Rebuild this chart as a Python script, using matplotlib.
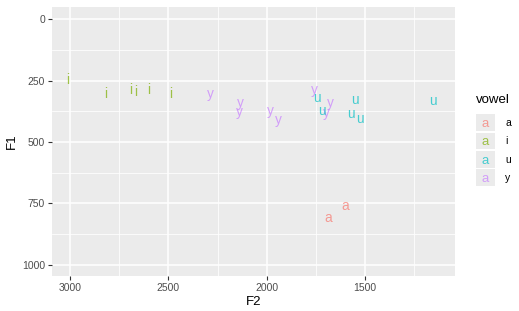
import matplotlib.pyplot as plt
from matplotlib.legend_handler import HandlerBase
from matplotlib.lines import Line2D
from matplotlib.patches import Rectangle
from matplotlib.text import Text

plt.rcParams['font.family'] = ['Liberation Sans', 'DejaVu Sans']

# vowel formant readings (F2, F1)
vowels = ['a', 'i', 'u', 'y']
colors = {'a': '#F8766D', 'i': '#7CAE00', 'u': '#00BFC4', 'y': '#C77CFF'}

i_f2 = [3010, 2818, 2691, 2669, 2600, 2488]
i_f1 = [246, 305, 289, 298, 288, 303]
y_f2 = [2288, 2132, 2139, 1979, 1942, 1758, 1678, 1695]
y_f1 = [305, 342, 379, 373, 410, 287, 342, 383]
u_f2 = [1746, 1720, 1551, 1571, 1525, 1156]
u_f1 = [320, 374, 329, 388, 408, 333]
a_f2 = [1602, 1687]
a_f1 = [759, 809]

data = {'i': (i_f2, i_f1), 'y': (y_f2, y_f1), 'u': (u_f2, u_f1), 'a': (a_f2, a_f1)}


class TextKey(HandlerBase):
    # ggplot-style key: grey square with a coloured "a"
    def create_artists(self, legend, orig_handle, xdescent, ydescent,
                       width, height, fontsize, trans):
        bg = Rectangle((-xdescent, -ydescent), width, height,
                       facecolor='#EBEBEB', edgecolor='none', transform=trans)
        t = Text(-xdescent + width / 2, -ydescent + height / 2 - 1, 'a',
                 color=orig_handle.get_color(), alpha=0.7, ha='center',
                 va='center', fontsize=9.5, transform=trans)
        return [bg, t]


fig = plt.figure(figsize=(5.19, 3.11), dpi=100)
ax = fig.add_axes([52 / 519, 35 / 311, 403 / 519, 269 / 311])
ax.set_facecolor('#EBEBEB')

for v in ['i', 'y', 'u', 'a']:
    xs, ys = data[v]
    for x, y in zip(xs, ys):
        ax.text(x, y, v, color=colors[v], alpha=0.7, fontsize=9.8,
                ha='center', va='center')

ax.set_xlim(3092, 1042)
ax.set_ylim(1045, -49)
ax.set_xticks([3000, 2500, 2000, 1500])
ax.set_xticks([2750, 2250, 1750, 1250], minor=True)
ax.set_yticks([0, 250, 500, 750, 1000])
ax.set_yticks([125, 375, 625, 875], minor=True)
ax.grid(which='major', color='white', linewidth=1.1)
ax.grid(which='minor', color='white', linewidth=0.55)
ax.set_axisbelow(True)
for s in ax.spines.values():
    s.set_visible(False)
ax.tick_params(which='major', length=3, width=0.8, color='#333333',
               labelcolor='#4D4D4D', labelsize=7.5, pad=2)
ax.tick_params(which='minor', length=0)

ax.set_xlabel('F2', fontsize=9.5, labelpad=2)
ax.set_ylabel('F1', fontsize=9.5, labelpad=3)

handles = [Line2D([], [], color=colors[v]) for v in vowels]
leg = fig.legend(handles, vowels, title='vowel', loc='center left',
                 bbox_to_anchor=(472 / 519, 0.55), frameon=False,
                 handler_map={Line2D: TextKey()}, fontsize=7.5,
                 title_fontsize=9.5, handlelength=1.8, handleheight=2.1,
                 labelspacing=0.15, handletextpad=1.0, borderaxespad=0)
leg._legend_box.align = 'left'
leg._legend_box.sep = 6

fig.savefig('out.png', dpi=100)
